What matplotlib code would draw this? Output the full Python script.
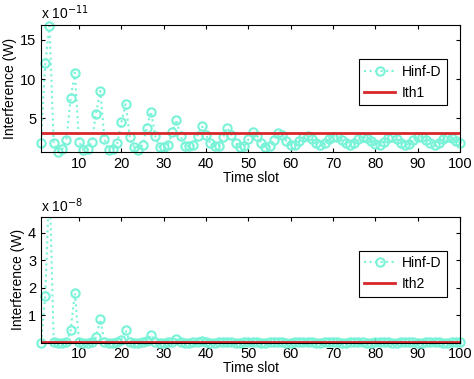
import numpy as np
import matplotlib
matplotlib.use('Agg')
import matplotlib.pyplot as plt

# time slots
slots = np.arange(1, 101)

# interference of Hinf-D, top panel (x 1e-11 W)
hinf_top = [1.9, 12.0, 16.8, 1.9, 0.75, 1.05, 2.2, 7.55, 10.8, 2.0,
            0.95, 1.05, 2.0, 5.6, 8.5, 2.3, 0.9, 1.1, 1.8, 4.5,
            6.8, 2.6, 1.3, 1.0, 1.6, 3.8, 5.85, 2.7, 1.3, 1.3,
            1.6, 3.2, 4.8, 2.7, 1.5, 1.4, 1.6, 2.8, 4.0, 2.9,
            1.8, 1.5, 1.5, 2.6, 3.8, 2.9, 1.8, 1.3, 1.4, 2.3,
            3.3, 2.8, 1.9, 1.3, 1.5, 2.2, 3.1, 2.9, 2.1, 1.6,
            1.6, 2.1, 2.6, 2.7, 2.3, 1.8, 1.6, 1.8, 2.3, 2.6,
            2.6, 2.2, 1.8, 1.6, 1.9, 2.4, 2.6, 2.5, 2.1, 1.7,
            1.6, 2.0, 2.5, 2.6, 2.4, 1.9, 1.6, 1.7, 2.2, 2.6,
            2.6, 2.2, 1.8, 1.6, 1.9, 2.4, 2.6, 2.5, 2.1, 1.9]
ith1 = 3.1

# interference of Hinf-D, bottom panel (x 1e-8 W)
hinf_bot = [0.0, 1.7, 6.0, 0.02, 0.0, 0.0, 0.02, 0.45, 1.8, 0.02,
            0.0, 0.0, 0.02, 0.2, 0.85, 0.02, 0.0, 0.0, 0.02, 0.1,
            0.45, 0.02, 0.0, 0.0, 0.02, 0.06, 0.28, 0.02, 0.0, 0.0,
            0.01, 0.04, 0.12, 0.02, 0.0, 0.0, 0.01, 0.02, 0.05, 0.02,
            0.0, 0.0, 0.01, 0.02, 0.04, 0.02, 0.0, 0.0, 0.01, 0.02,
            0.03, 0.02, 0.0, 0.0, 0.01, 0.02, 0.02, 0.02, 0.0, 0.0,
            0.01, 0.01, 0.02, 0.02, 0.01, 0.0, 0.0, 0.01, 0.02, 0.02,
            0.01, 0.0, 0.0, 0.01, 0.02, 0.02, 0.01, 0.0, 0.0, 0.01,
            0.02, 0.02, 0.01, 0.0, 0.0, 0.01, 0.02, 0.02, 0.01, 0.0,
            0.0, 0.01, 0.02, 0.02, 0.01, 0.0, 0.0, 0.01, 0.02, 0.02]
ith2 = 0.02

cyan = '#78F3D8'
red = '#D8262A'

plt.rcParams['font.family'] = ['Liberation Sans', 'DejaVu Sans']
plt.rcParams['font.size'] = 10

fig = plt.figure(figsize=(4.74, 3.79), dpi=100)


def panel(rect, y, th, th_label, ylim, yticks, exp):
    ax = fig.add_axes(rect)
    # dotted line, clipped to the axes
    ax.plot(slots, y, linestyle=':', color=cyan, linewidth=1.5)
    # open circles, left unclipped so edge points show whole
    ax.plot(slots, np.ma.masked_greater(y, ylim[1]), linestyle='none',
            marker='o', markersize=6, markerfacecolor='none',
            markeredgewidth=1.5, markeredgecolor=cyan, clip_on=False)
    ax.plot([], [], linestyle=':', color=cyan, linewidth=1.5, marker='o',
            markersize=6, markerfacecolor='none', markeredgewidth=1.5,
            label='Hinf-D')
    ax.plot(slots, [th] * len(slots), color=red, linewidth=2, label=th_label)
    ax.set_xlim(1, 100)
    ax.set_ylim(*ylim)
    ax.set_xticks(range(10, 101, 10))
    ax.set_yticks(yticks)
    ax.tick_params(direction='in', top=True, right=True, length=3, labelsize=10.5)
    ax.set_xlabel('Time slot', labelpad=0)
    ax.set_ylabel('Interference (W)', labelpad=2)
    ax.text(0.0, 1.02, r'x 10$^{%d}$' % exp, transform=ax.transAxes,
            ha='left', va='bottom', fontsize=10)
    leg = ax.legend(loc='center right', bbox_to_anchor=(0.985, 0.55),
                    fancybox=False, framealpha=1, edgecolor='black',
                    handlelength=2.2, handletextpad=0.5, borderpad=0.4,
                    labelspacing=0.5, fontsize=10)
    leg.get_frame().set_linewidth(0.8)
    for s in ax.spines.values():
        s.set_linewidth(0.8)
    return ax


panel([0.0865, 0.599, 0.884, 0.335], hinf_top, ith1, 'Ith1',
      (0.7, 16.9), [5, 10, 15], -11)
panel([0.0865, 0.096, 0.884, 0.331], hinf_bot, ith2, 'Ith2',
      (0.0, 4.57), [1, 2, 3, 4], -8)

fig.savefig('out.png', dpi=100)
